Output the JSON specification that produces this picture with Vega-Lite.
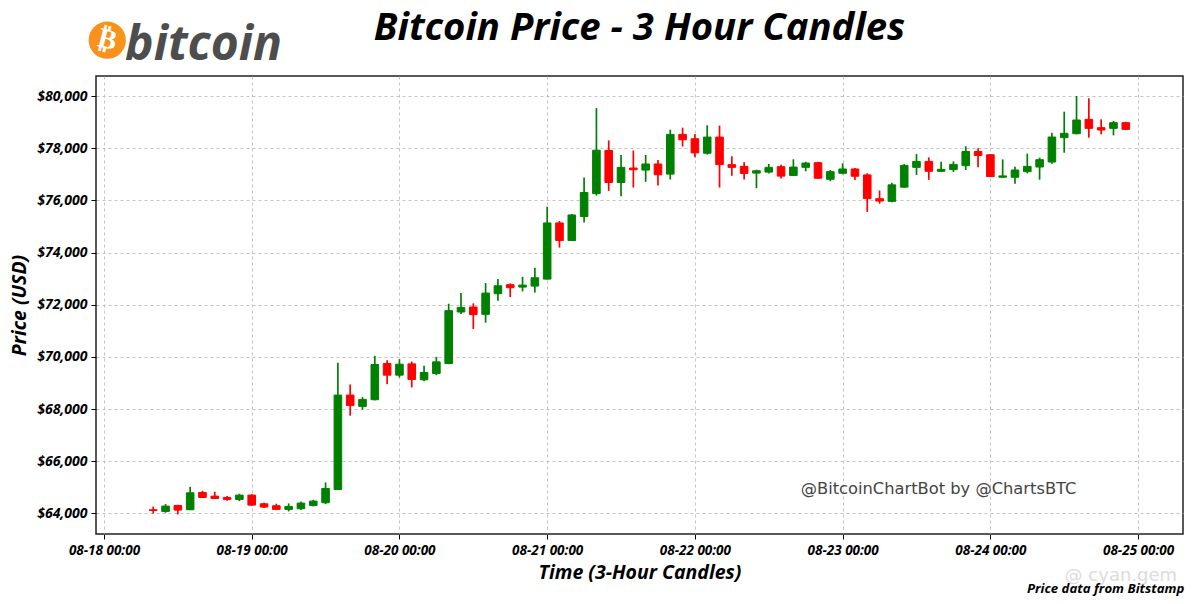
{
  "$schema": "https://vega.github.io/schema/vega-lite/v6.json",
  "width": 1087,
  "height": 458,
  "autosize": "none",
  "padding": {"left": 96, "top": 76, "right": 16, "bottom": 70},
  "background": "white",
  "title": {
    "text": "Bitcoin Price - 3 Hour Candles",
    "font": "Open Sans",
    "fontSize": 38.3,
    "fontStyle": "italic",
    "fontWeight": "bold",
    "color": "#000",
    "anchor": "middle",
    "frame": "group",
    "offset": -27
  },
  "datasets": {
    "candles": [
      {"t": "2024-08-18T08:00", "open": 64140, "high": 64260, "low": 63990, "close": 64110},
      {"t": "2024-08-18T10:00", "open": 64076, "high": 64357, "low": 64025, "close": 64280},
      {"t": "2024-08-18T12:00", "open": 64306, "high": 64331, "low": 63962, "close": 64127},
      {"t": "2024-08-18T14:00", "open": 64140, "high": 65019, "low": 64127, "close": 64790},
      {"t": "2024-08-18T16:00", "open": 64803, "high": 64866, "low": 64600, "close": 64611},
      {"t": "2024-08-18T18:00", "open": 64662, "high": 64828, "low": 64560, "close": 64573},
      {"t": "2024-08-18T20:00", "open": 64611, "high": 64662, "low": 64484, "close": 64535},
      {"t": "2024-08-18T22:00", "open": 64535, "high": 64752, "low": 64471, "close": 64700},
      {"t": "2024-08-19T00:00", "open": 64700, "high": 64739, "low": 64293, "close": 64318},
      {"t": "2024-08-19T02:00", "open": 64369, "high": 64408, "low": 64204, "close": 64242},
      {"t": "2024-08-19T04:00", "open": 64293, "high": 64370, "low": 64127, "close": 64153},
      {"t": "2024-08-19T06:00", "open": 64153, "high": 64382, "low": 64076, "close": 64267},
      {"t": "2024-08-19T08:00", "open": 64178, "high": 64459, "low": 64127, "close": 64395},
      {"t": "2024-08-19T10:00", "open": 64306, "high": 64522, "low": 64268, "close": 64471},
      {"t": "2024-08-19T12:00", "open": 64408, "high": 65185, "low": 64357, "close": 64955},
      {"t": "2024-08-19T14:00", "open": 64917, "high": 69771, "low": 64904, "close": 68535},
      {"t": "2024-08-19T16:00", "open": 68535, "high": 68943, "low": 67746, "close": 68140},
      {"t": "2024-08-19T18:00", "open": 68102, "high": 68459, "low": 67975, "close": 68370},
      {"t": "2024-08-19T20:00", "open": 68357, "high": 70039, "low": 68332, "close": 69708},
      {"t": "2024-08-19T22:00", "open": 69745, "high": 69873, "low": 68955, "close": 69299},
      {"t": "2024-08-20T00:00", "open": 69299, "high": 69911, "low": 69210, "close": 69720},
      {"t": "2024-08-20T02:00", "open": 69732, "high": 69822, "low": 68828, "close": 69134},
      {"t": "2024-08-20T04:00", "open": 69121, "high": 69656, "low": 69070, "close": 69401},
      {"t": "2024-08-20T06:00", "open": 69363, "high": 70000, "low": 69299, "close": 69809},
      {"t": "2024-08-20T08:00", "open": 69745, "high": 72038, "low": 69720, "close": 71771},
      {"t": "2024-08-20T10:00", "open": 71720, "high": 72446, "low": 71643, "close": 71898},
      {"t": "2024-08-20T12:00", "open": 71911, "high": 72051, "low": 71070, "close": 71618},
      {"t": "2024-08-20T14:00", "open": 71631, "high": 72828, "low": 71312, "close": 72446},
      {"t": "2024-08-20T16:00", "open": 72421, "high": 72981, "low": 72153, "close": 72726},
      {"t": "2024-08-20T18:00", "open": 72765, "high": 72815, "low": 72293, "close": 72650},
      {"t": "2024-08-20T20:00", "open": 72675, "high": 73070, "low": 72510, "close": 72752},
      {"t": "2024-08-20T22:00", "open": 72714, "high": 73414, "low": 72472, "close": 73032},
      {"t": "2024-08-21T00:00", "open": 72981, "high": 75758, "low": 72968, "close": 75134},
      {"t": "2024-08-21T02:00", "open": 75134, "high": 75210, "low": 74191, "close": 74459},
      {"t": "2024-08-21T04:00", "open": 74459, "high": 75478, "low": 74459, "close": 75440},
      {"t": "2024-08-21T06:00", "open": 75380, "high": 76878, "low": 75150, "close": 76300},
      {"t": "2024-08-21T08:00", "open": 76258, "high": 79535, "low": 76181, "close": 77923},
      {"t": "2024-08-21T10:00", "open": 77910, "high": 78297, "low": 76362, "close": 76684},
      {"t": "2024-08-21T12:00", "open": 76684, "high": 77742, "low": 76155, "close": 77265},
      {"t": "2024-08-21T14:00", "open": 77239, "high": 77910, "low": 76491, "close": 77174},
      {"t": "2024-08-21T16:00", "open": 77161, "high": 77742, "low": 76710, "close": 77394},
      {"t": "2024-08-21T18:00", "open": 77394, "high": 77549, "low": 76568, "close": 76981},
      {"t": "2024-08-21T20:00", "open": 77007, "high": 78710, "low": 76800, "close": 78529},
      {"t": "2024-08-21T22:00", "open": 78529, "high": 78787, "low": 78065, "close": 78323},
      {"t": "2024-08-22T00:00", "open": 78361, "high": 78542, "low": 77652, "close": 77819},
      {"t": "2024-08-22T02:00", "open": 77806, "high": 78877, "low": 77755, "close": 78426},
      {"t": "2024-08-22T04:00", "open": 78426, "high": 78864, "low": 76491, "close": 77368},
      {"t": "2024-08-22T06:00", "open": 77368, "high": 77690, "low": 76942, "close": 77265},
      {"t": "2024-08-22T08:00", "open": 77303, "high": 77458, "low": 76800, "close": 77032},
      {"t": "2024-08-22T10:00", "open": 77045, "high": 77174, "low": 76465, "close": 77135},
      {"t": "2024-08-22T12:00", "open": 77084, "high": 77394, "low": 77032, "close": 77265},
      {"t": "2024-08-22T14:00", "open": 77290, "high": 77368, "low": 76839, "close": 76929},
      {"t": "2024-08-22T16:00", "open": 76955, "high": 77574, "low": 76929, "close": 77277},
      {"t": "2024-08-22T18:00", "open": 77266, "high": 77481, "low": 77114, "close": 77430},
      {"t": "2024-08-22T20:00", "open": 77443, "high": 77481, "low": 76823, "close": 76848},
      {"t": "2024-08-22T22:00", "open": 76810, "high": 77164, "low": 76734, "close": 77101},
      {"t": "2024-08-23T00:00", "open": 77038, "high": 77418, "low": 77000, "close": 77202},
      {"t": "2024-08-23T02:00", "open": 77202, "high": 77240, "low": 76785, "close": 76924},
      {"t": "2024-08-23T04:00", "open": 76975, "high": 77038, "low": 75557, "close": 76063},
      {"t": "2024-08-23T06:00", "open": 76063, "high": 76380, "low": 75873, "close": 75974},
      {"t": "2024-08-23T08:00", "open": 75962, "high": 76671, "low": 75924, "close": 76595},
      {"t": "2024-08-23T10:00", "open": 76506, "high": 77392, "low": 76481, "close": 77342},
      {"t": "2024-08-23T12:00", "open": 77266, "high": 77772, "low": 76975, "close": 77494},
      {"t": "2024-08-23T14:00", "open": 77494, "high": 77646, "low": 76785, "close": 77114},
      {"t": "2024-08-23T16:00", "open": 77114, "high": 77481, "low": 77101, "close": 77190},
      {"t": "2024-08-23T18:00", "open": 77177, "high": 77494, "low": 77089, "close": 77380},
      {"t": "2024-08-23T20:00", "open": 77329, "high": 78076, "low": 77164, "close": 77873},
      {"t": "2024-08-23T22:00", "open": 77873, "high": 78000, "low": 77266, "close": 77721},
      {"t": "2024-08-24T00:00", "open": 77747, "high": 77772, "low": 76900, "close": 76911},
      {"t": "2024-08-24T02:00", "open": 76886, "high": 77570, "low": 76873, "close": 76937},
      {"t": "2024-08-24T04:00", "open": 76886, "high": 77291, "low": 76633, "close": 77164},
      {"t": "2024-08-24T06:00", "open": 77099, "high": 77789, "low": 77035, "close": 77303},
      {"t": "2024-08-24T08:00", "open": 77278, "high": 77636, "low": 76792, "close": 77559},
      {"t": "2024-08-24T10:00", "open": 77470, "high": 78594, "low": 77406, "close": 78428},
      {"t": "2024-08-24T12:00", "open": 78403, "high": 79399, "low": 77827, "close": 78569},
      {"t": "2024-08-24T14:00", "open": 78556, "high": 80000, "low": 78530, "close": 79080},
      {"t": "2024-08-24T16:00", "open": 79105, "high": 79911, "low": 78403, "close": 78760},
      {"t": "2024-08-24T18:00", "open": 78786, "high": 79105, "low": 78530, "close": 78696},
      {"t": "2024-08-24T20:00", "open": 78760, "high": 79042, "low": 78492, "close": 78978},
      {"t": "2024-08-24T22:00", "open": 78978, "high": 79016, "low": 78696, "close": 78722}
    ]
  },
  "encoding": {
    "x": {
      "field": "t",
      "type": "temporal",
      "scale": {
        "domain": [
          {"year": 2024, "month": 8, "date": 17, "hours": 23, "minutes": 31},
          {"year": 2024, "month": 8, "date": 25, "hours": 6, "minutes": 29}
        ]
      },
      "axis": {
        "title": "Time (3-Hour Candles)",
        "format": "%m-%d %H:%M",
        "tickCount": {"interval": "day", "step": 1},
        "labelFlush": false,
        "labelOverlap": false
      }
    },
    "y": {
      "field": "low",
      "type": "quantitative",
      "scale": {"domain": [63210, 80767], "zero": false, "nice": false},
      "axis": {
        "title": "Price (USD)",
        "format": "$,.0f",
        "values": [64000, 66000, 68000, 70000, 72000, 74000, 76000, 78000, 80000]
      }
    }
  },
  "layer": [
    {
      "data": {"name": "candles"},
      "mark": {"type": "rule", "strokeWidth": 1.7},
      "encoding": {
        "y2": {"field": "high"},
        "color": {
          "condition": {"test": "datum.close >= datum.open", "value": "#008000"},
          "value": "#ff0000"
        }
      }
    },
    {
      "data": {"name": "candles"},
      "mark": {"type": "bar", "width": 7.6, "strokeWidth": 1},
      "encoding": {
        "y": {"field": "open", "type": "quantitative"},
        "y2": {"field": "close"},
        "color": {
          "condition": {"test": "datum.close >= datum.open", "value": "#008000"},
          "value": "#ff0000"
        },
        "stroke": {
          "condition": {"test": "datum.close >= datum.open", "value": "#008000"},
          "value": "#ff0000"
        }
      }
    },
    {
      "data": {"values": [{"t": "2024-08-23T15:35", "p": 64948, "label": "@BitcoinChartBot by @ChartsBTC"}]},
      "mark": {"type": "text", "font": "DejaVu Sans", "fontSize": 16.3, "color": "#444", "align": "center", "baseline": "middle"},
      "encoding": {
        "y": {"field": "p", "type": "quantitative"},
        "text": {"field": "label"}
      }
    },
    {
      "data": {"values": [{"t": "2024-08-24T21:12", "p": 61600, "label": "@ cyan.gem"}]},
      "mark": {"type": "text", "font": "DejaVu Sans", "fontSize": 18, "color": "#dcdcdc", "align": "center", "baseline": "middle"},
      "encoding": {
        "y": {"field": "p", "type": "quantitative"},
        "text": {"field": "label"}
      }
    },
    {
      "data": {"values": [{"t": "2024-08-25T07:30", "p": 60957, "label": "Price data from Bitstamp"}]},
      "mark": {"type": "text", "font": "Open Sans", "fontSize": 13.2, "fontStyle": "italic", "fontWeight": "bold", "color": "#000", "align": "right", "baseline": "alphabetic"},
      "encoding": {
        "y": {"field": "p", "type": "quantitative"},
        "text": {"field": "label"}
      }
    },
    {
      "data": {"values": [{"t": "2024-08-18T00:32", "p": 82139}]},
      "mark": {"type": "point", "shape": "circle", "filled": true, "size": 1390, "color": "#f7931a", "opacity": 1},
      "encoding": {
        "y": {"field": "p", "type": "quantitative"}
      }
    },
    {
      "data": {"values": [{"t": "2024-08-18T00:32", "p": 82139, "label": "₿"}]},
      "mark": {"type": "text", "font": "DejaVu Sans", "fontSize": 28, "fontWeight": "bold", "color": "white", "align": "center", "baseline": "middle", "angle": 14},
      "encoding": {
        "y": {"field": "p", "type": "quantitative"},
        "text": {"field": "label"}
      }
    },
    {
      "data": {"values": [{"t": "2024-08-18T03:26", "p": 81371, "label": "bitcoin"}]},
      "mark": {"type": "text", "font": "Open Sans", "fontSize": 48, "fontStyle": "italic", "fontWeight": "bold", "color": "#4d4d4d", "align": "left", "baseline": "alphabetic"},
      "encoding": {
        "y": {"field": "p", "type": "quantitative"},
        "text": {"field": "label"}
      }
    }
  ],
  "config": {
    "view": {"stroke": "#222", "strokeWidth": 1.5},
    "axis": {
      "domain": false,
      "grid": true,
      "gridColor": "#b5b5b5",
      "gridDash": [3, 3],
      "gridWidth": 0.8,
      "tickColor": "#000",
      "tickSize": 5,
      "tickWidth": 1,
      "labelFont": "Open Sans",
      "labelFontStyle": "italic",
      "labelFontWeight": "bold",
      "labelColor": "#000",
      "labelPadding": 4,
      "titleFont": "Open Sans",
      "titleFontStyle": "italic",
      "titleFontWeight": "bold",
      "titleFontSize": 19.5,
      "titleColor": "#000"
    },
    "axisX": {"labelFontSize": 13.5, "titlePadding": 7},
    "axisY": {"labelFontSize": 14, "titlePadding": 7}
  }
}
